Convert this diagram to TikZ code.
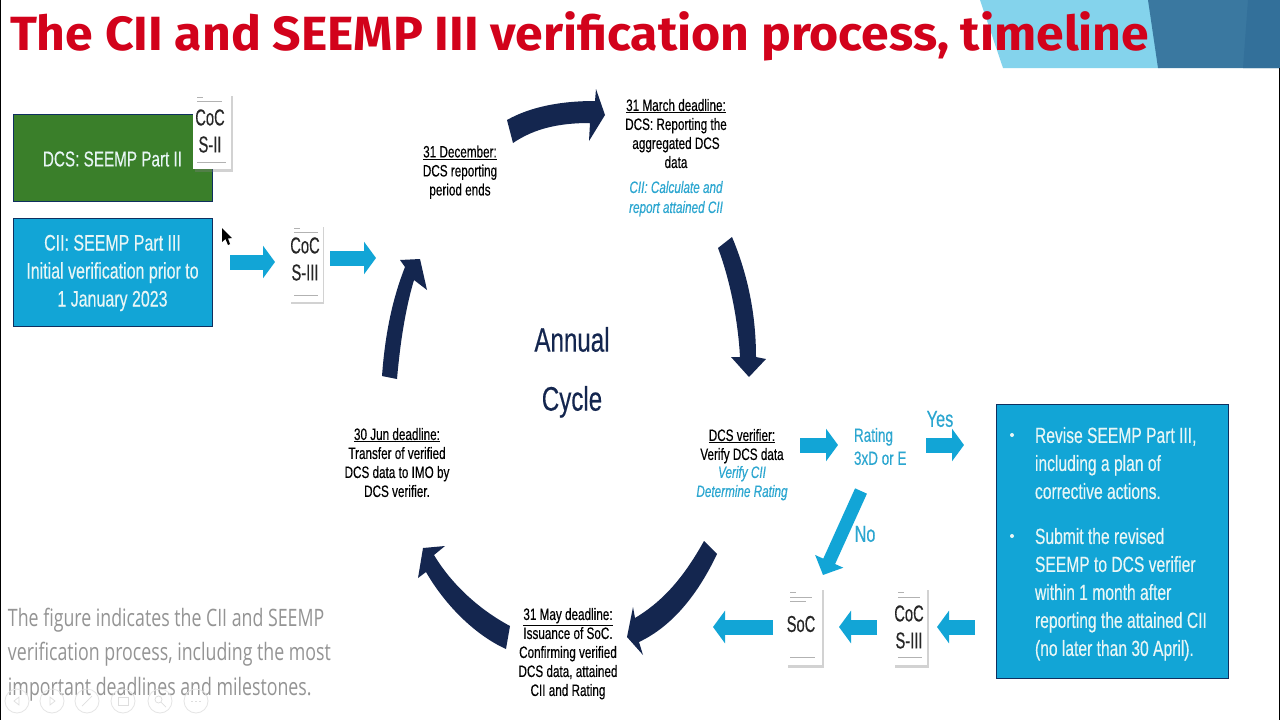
\documentclass[tikz,border=0pt]{standalone}
\usepackage{fontspec}
\usetikzlibrary{arrows.meta,shadows}
\setmainfont{Liberation Sans}
\newfontfamily\narrowfont[FakeStretch=0.71,FakeBold=0.3]{Liberation Sans}
\newfontfamily\iconfont[FakeStretch=0.64,FakeBold=0.3]{Liberation Sans}
\newfontfamily\titlefont[FakeStretch=1.04]{Fira Sans}
\newfontfamily\notefont[FakeStretch=0.74]{Open Sans}
\newcommand{\fsz}[2]{\fontsize{#1pt}{#2pt}\selectfont}
\definecolor{navy}{HTML}{14264F}
\definecolor{sky}{HTML}{12A5D6}
\definecolor{skytxt}{HTML}{2BA6D0}
\definecolor{leaf}{HTML}{3A7F2A}
\definecolor{headlight}{HTML}{84D3EC}
\definecolor{headdark}{HTML}{3A78A0}
\definecolor{headdarker}{HTML}{33709A}
\definecolor{titlered}{HTML}{D2021B}
\definecolor{edgeblue}{HTML}{0F2F5F}
\definecolor{pale}{HTML}{E8F6F6}
\tikzset{
  x=1pt,y=-1pt,
  every node/.style={inner sep=0pt,outer sep=0pt},
  barrow/.style={draw=sky,line width=15pt,-{Triangle[length=12pt,width=32pt]}},
  bigarrow/.style={fill=navy,draw=none},
  solidbox/.style={draw=edgeblue,line width=1pt,text=pale,align=center},
  caption/.style={align=center,font=\narrowfont\fsz{16.5}{19},text=black},
  docicon/.style={fill=white,draw=none,drop shadow={shadow xshift=1.5pt,shadow yshift=-2.5pt,opacity=.35,fill=gray},
    align=center,font=\iconfont\fsz{23}{27},text=black!85},
  ctrl/.style={draw=black!10,line width=.8pt,fill=none,circle,minimum size=24pt},
  ctrlmark/.style={draw=black!13,line width=.7pt},
  smudge/.style={draw=black!30,line width=.5pt},
}
\begin{document}
\begin{tikzpicture}
\useasboundingbox (0,0) rectangle (1280,720);
\fill[white] (0,0) rectangle (1280,720);
% header decoration
\fill[headlight] (980,0) -- (1150,0) -- (1160,68) -- (1003,68) -- cycle;
\fill[headdark] (1148,0) -- (1280,0) -- (1280,68) -- (1158,68) -- cycle;
\fill[headdarker] (1248,0) -- (1280,0) -- (1280,68) -- (1243,68) -- cycle;
\draw[black,line width=1pt] (.5,0) -- (.5,720);
\draw[black,line width=1pt] (1279.5,68) -- (1279.5,720);
% title
\node[anchor=base west,text=titlered,font=\titlefont\bfseries\fsz{48}{52}] (title) at (10,50) {The CII and SEEMP III verification process, timeline};
% left boxes
\node[solidbox,fill=leaf,minimum width=199pt,minimum height=87pt,anchor=north west,font=\narrowfont\fsz{21.5}{28},text depth=0pt] (dcsbox) at (13,114) {};
\node[text=pale,font=\narrowfont\fsz{21.5}{28}] (dcstext) at (112.5,159) {DCS: SEEMP Part II};
\node[solidbox,fill=sky,minimum width=199pt,minimum height=108pt,anchor=north west] (ciibox) at (13,218) {};
\node[text=pale,align=center,font=\narrowfont\fsz{22.5}{28}] (ciitext) at (112.5,273) {CII: SEEMP Part III\\Initial verification prior to\\1 January 2023};
% documents
\node[docicon,minimum width=38pt,minimum height=76pt] (cocii) at (212,131) {};
\node[align=center,font=\iconfont\fsz{23}{27},text=black!85] (cociitext) at (210,131) {CoC\\S-II};
\node[docicon,minimum width=33pt,minimum height=77pt] (cociii) at (306,263) {};
\node[align=center,font=\iconfont\fsz{23}{27},text=black!85] (cociiitext) at (305,259) {CoC\\S-III};
\node[docicon,minimum width=36pt,minimum height=78pt] (soc) at (804,626) {};
\node[font=\iconfont\fsz{23}{27},text=black!85] (soctext) at (801,624) {SoC};
\node[docicon,minimum width=34pt,minimum height=78pt] (cocb) at (910,626) {};
\node[align=center,font=\iconfont\fsz{23}{27},text=black!85] (cocbtext) at (909,627) {CoC\\S-III};
% tiny print on the documents
\draw[smudge] (197,97) -- (203,97) (197,101) -- (222,101);
\draw[smudge] (197,162) -- (226,162);
\draw[smudge] (294,228) -- (300,228) (294,232) -- (318,232);
\draw[smudge] (294,295) -- (318,295);
\draw[smudge] (790,592) -- (796,592) (790,597) -- (812,597) (790,601) -- (806,601);
\draw[smudge] (790,657) -- (815,657);
\draw[smudge] (898,592) -- (904,592) (898,597) -- (920,597);
\draw[smudge] (898,657) -- (922,657);
% cursor
\fill[black] (222,228) -- (222,242) -- (225.5,239) -- (228,245) -- (230,244) -- (228,238.5) -- (232,238) -- cycle;
% free ends of the block arrows
\coordinate (a1) at (230,262); \coordinate (a2) at (275,262);
\coordinate (b1) at (330,258); \coordinate (b2) at (376,258);
\coordinate (c1) at (800,445); \coordinate (c2) at (838,445);
\coordinate (d1) at (926,445); \coordinate (d2) at (964,445);
\coordinate (e1) at (861,491); \coordinate (e2) at (823,575);
\coordinate (f1) at (975,627); \coordinate (f2) at (937,627);
\coordinate (g1) at (877,627); \coordinate (g2) at (839,627);
\coordinate (h1) at (773,627); \coordinate (h2) at (713,627);
\draw[barrow] (a1) -- (a2);
\draw[barrow] (b1) -- (b2);
\draw[barrow] (c1) -- (c2);
\draw[barrow] (d1) -- (d2);
\draw[barrow,line width=13pt,-{Triangle[length=15pt,width=30pt]}] (e1) -- (e2);
\draw[barrow] (f1) -- (f2);
\draw[barrow] (g1) -- (g2);
\draw[barrow] (h1) -- (h2);
% cycle arrows
\fill[bigarrow] (507,120) .. controls (530,107) and (560,101) .. (595,101) -- (596,89) -- (605,115) -- (589,141) -- (590,123) .. controls (560,123) and (535,128) .. (513,143) -- cycle;
\fill[bigarrow] (732,237) .. controls (748,275) and (756,315) .. (756,357) -- (766,359) -- (749,377) -- (731,357) -- (740,357) .. controls (738,320) and (730,280) .. (718,248) -- cycle;
\fill[bigarrow] (704,541) .. controls (685,575) and (665,600) .. (635,618) -- (633,607) -- (627,637) -- (643,655) -- (639,642) .. controls (675,625) and (700,590) .. (717,554) -- cycle;
\fill[bigarrow] (510,626) .. controls (480,610) and (452,585) .. (434,555) -- (445,546) -- (423,548) -- (418,578) -- (426,572) .. controls (445,605) and (475,635) .. (506,649) -- cycle;
\fill[bigarrow] (382,376) .. controls (385,335) and (392,300) .. (405,267) -- (400,260) -- (420,259) -- (427,290) -- (414,280) .. controls (405,310) and (400,345) .. (397,379) -- cycle;
% captions
\node[caption,anchor=north] (dec) at (460,145.5) {\underline{31 December:}\\DCS reporting\\period ends};
\node[caption,anchor=north] (mar) at (676,99) {\underline{31 March deadline:}\\DCS: Reporting the\\aggregated DCS\\data};
\node[caption,anchor=north,text=skytxt,font=\narrowfont\itshape\fsz{16.5}{20}] (marcii) at (676,181) {CII: Calculate and\\report attained CII};
\node[caption,anchor=north] (ver) at (742,429) {\underline{DCS verifier:}\\Verify DCS data};
\node[caption,anchor=north,text=skytxt,font=\narrowfont\itshape\fsz{16.5}{19}] (vercii) at (742,466) {Verify CII\\Determine Rating};
\node[caption,anchor=north] (jun) at (397,428) {\underline{30 Jun deadline:}\\Transfer of verified\\DCS data to IMO by\\DCS verifier.};
\node[caption,anchor=north] (may) at (568,608) {\underline{31 May deadline:}\\Issuance of SoC.\\Confirming verified\\DCS data, attained\\CII and Rating};
\node[font=\narrowfont\fsz{34}{59},align=center,text=navy,anchor=north] (annual) at (572,327) {Annual\\Cycle};
% rating
\node[anchor=north west,align=left,text=skytxt,font=\narrowfont\fsz{19}{23}] (rating) at (854,428) {Rating\\3xD or E};
\node[text=skytxt,font=\narrowfont\fsz{23}{26}] (yes) at (940,419) {Yes};
\node[text=skytxt,font=\narrowfont\fsz{23}{26}] (no) at (865,534) {No};
% right box
\node[solidbox,fill=sky,minimum width=232pt,minimum height=274pt,anchor=north west] (revbox) at (996,404) {};
\node[anchor=north west,align=left,text=pale,font=\narrowfont\fsz{22}{28}] (rev1) at (1035,427) {Revise SEEMP Part III,\\including a plan of\\corrective actions.};
\node[anchor=north west,align=left,text=pale,font=\narrowfont\fsz{22}{28}] (rev2) at (1035,528) {Submit the revised\\SEEMP to DCS verifier\\within 1 month after\\reporting the attained CII\\(no later than 30 April).};
\fill[pale] (1012,435) circle (2pt) (1012,536) circle (2pt);
% note
\node[anchor=north west,align=left,text=black!42,font=\notefont\fsz{24}{34.5}] (note) at (8,608) {The figure indicates the CII and SEEMP\\verification process, including the most\\important deadlines and milestones.};
% video controls
\node[ctrl] (p1) at (17,701) {};
\node[ctrl] (p2) at (52,701) {};
\node[ctrl] (p3) at (87,701) {};
\node[ctrl] (p4) at (123,701) {};
\node[ctrl] (p5) at (160,701) {};
\node[ctrl] (p6) at (196,701) {};
\draw[ctrlmark] (19,697) -- (14,701) -- (19,705) -- cycle;
\draw[ctrlmark] (50,697) -- (55,701) -- (50,705) -- cycle;
\draw[ctrlmark] (82,706) -- (92,696);
\draw[ctrlmark] (118,697) rectangle (128,705);
\draw[ctrlmark] (158.5,699.5) circle (3.5pt) (161,702) -- (166,707);
\draw[ctrlmark] (191,701) -- (193,701) (195,701) -- (197,701) (199,701) -- (201,701);
\end{tikzpicture}
\end{document}
